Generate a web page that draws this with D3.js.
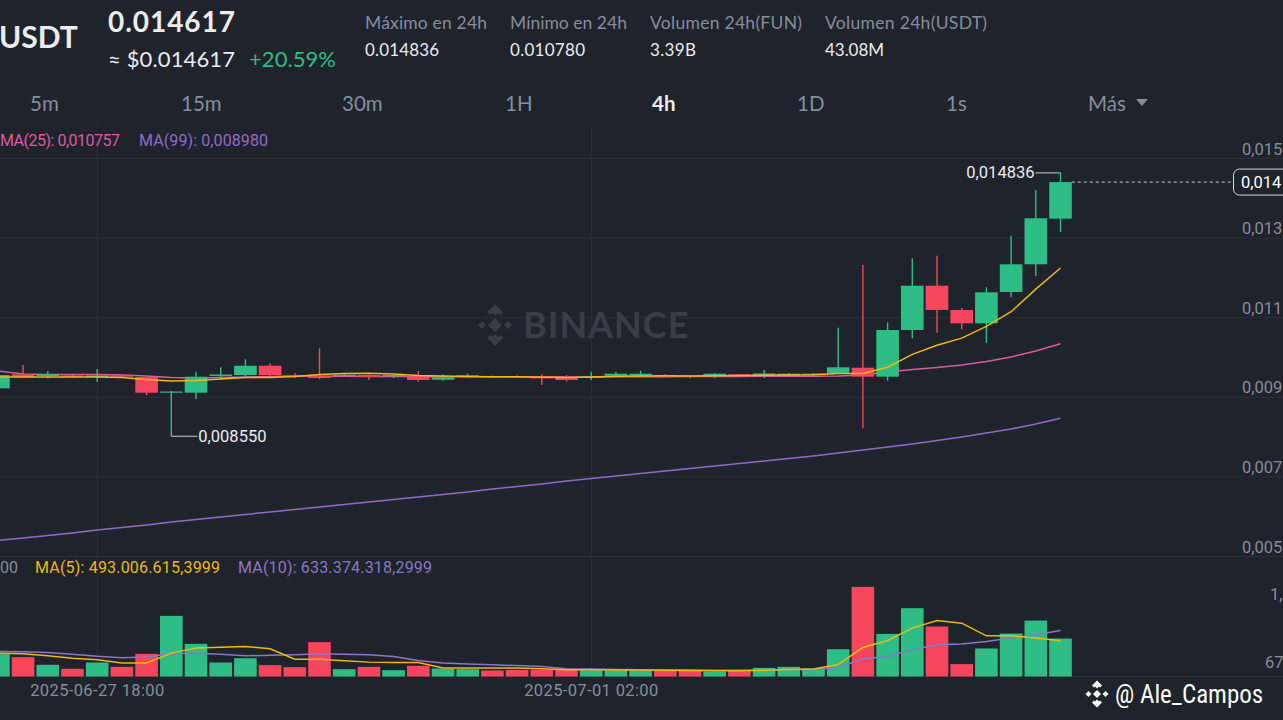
<!DOCTYPE html>
<html lang="es">
<head>
<meta charset="UTF-8">
<title>FUN/USDT 4h</title>
<script src="https://d3js.org/d3.v7.min.js"></script>
<style>
  html, body { margin: 0; padding: 0; background: #1f232c; overflow: hidden; }
  svg { display: block; }
</style>
</head>
<body>
<svg id="chart" width="1283" height="720"></svg>
<script>
// ---- data (4h candles, first one is half hidden on the left) ----
const startTime = "2025-06-27 02:00";
const opens  = [0.009695, 0.010029, 0.009988, 0.010000, 0.009964, 0.010000, 0.009964, 0.009599, 0.009590, 0.009988,
                0.010012, 0.010234, 0.010005, 0.009988, 0.009996, 0.010012, 0.009988, 0.009972, 0.009900, 0.009981,
                0.009988, 0.009981, 0.009988, 0.009957, 0.009941, 0.009996, 0.009996, 0.010012, 0.010000, 0.009996,
                0.010029, 0.009996, 0.009996, 0.010012, 0.010048, 0.010186, 0.009972, 0.011086, 0.012144, 0.011564,
                0.011246, 0.011993, 0.012655, 0.013743];
const highs  = [0.010036, 0.010251, 0.010108, 0.010012, 0.010155, 0.010012, 0.009976, 0.009630, 0.010091, 0.010196,
                0.010387, 0.010292, 0.010060, 0.010650, 0.010036, 0.010024, 0.010036, 0.010108, 0.010029, 0.010043,
                0.010000, 0.010000, 0.010029, 0.010012, 0.010091, 0.010091, 0.010115, 0.010029, 0.010012, 0.010053,
                0.010036, 0.010132, 0.010060, 0.010060, 0.011141, 0.012638, 0.011270, 0.012798, 0.012860, 0.011612,
                0.012106, 0.013337, 0.014428, 0.014836];
const lows   = [0.009678, 0.009953, 0.009933, 0.009964, 0.009852, 0.009964, 0.009535, 0.008550, 0.009439, 0.009893,
                0.009972, 0.009988, 0.009941, 0.009910, 0.009988, 0.009893, 0.009941, 0.009852, 0.009869, 0.009964,
                0.009953, 0.009941, 0.009773, 0.009852, 0.009893, 0.009976, 0.009976, 0.009964, 0.009933, 0.009933,
                0.009976, 0.009941, 0.009976, 0.010000, 0.010036, 0.008740, 0.009876, 0.010888, 0.011022, 0.011103,
                0.010780, 0.011867, 0.012375, 0.013426];
const closes = [0.010012, 0.009964, 0.010029, 0.009976, 0.010000, 0.009976, 0.009590, 0.009618, 0.009972, 0.010024,
                0.010234, 0.010012, 0.009964, 0.009941, 0.010019, 0.009964, 0.010012, 0.009893, 0.009957, 0.010005,
                0.009964, 0.009964, 0.009933, 0.009893, 0.009976, 0.010043, 0.010043, 0.009981, 0.009976, 0.010043,
                0.009988, 0.010048, 0.010043, 0.010043, 0.010196, 0.009972, 0.011086, 0.012144, 0.011564, 0.011246,
                0.011986, 0.012655, 0.013753, 0.014617];
// volume in millions of FUN
const volumes = [307, 266, 161, 106, 193, 133, 312, 835, 450, 193, 252, 156, 129, 473, 101, 133, 87, 147, 110, 101,
                 83, 92, 92, 92, 87, 87, 87, 78, 78, 69, 83, 119, 133, 110, 376, 1235, 587, 941, 689, 170,
                 386, 592, 771, 523];
const ma7  = [0.009964, 0.009964, 0.009964, 0.009966, 0.009964, 0.009953, 0.009905, 0.009869, 0.009881, 0.009917,
              0.009953, 0.009953, 0.009976, 0.010024, 0.010048, 0.010053, 0.010036, 0.010000, 0.009988, 0.009976,
              0.009972, 0.009968, 0.009960, 0.009955, 0.009965, 0.009980, 0.009990, 0.009995, 0.009990, 0.009995,
              0.010000, 0.010005, 0.010012, 0.010017, 0.010048, 0.010048, 0.010197, 0.010505, 0.010721, 0.010893,
              0.011171, 0.011522, 0.012062, 0.012566];
const ma25 = [0.010108, 0.010036, 0.010024, 0.010024, 0.010024, 0.010012, 0.009988, 0.009953, 0.009941, 0.009953,
              0.009964, 0.009976, 0.009988, 0.009982, 0.009980, 0.009978, 0.009976, 0.009974, 0.009972, 0.009972,
              0.009970, 0.009970, 0.009968, 0.009966, 0.009966, 0.009968, 0.009970, 0.009972, 0.009974, 0.009976,
              0.009978, 0.009980, 0.009982, 0.009985, 0.009988, 0.010012, 0.010084, 0.010144, 0.010191, 0.010251,
              0.010335, 0.010442, 0.010585, 0.010757];
const ma99 = [0.006062, 0.006122, 0.006181, 0.006241, 0.006313, 0.006372, 0.006432, 0.006503, 0.006563, 0.006623,
              0.006683, 0.006742, 0.006802, 0.006862, 0.006921, 0.006981, 0.007041, 0.007100, 0.007160, 0.007220,
              0.007291, 0.007351, 0.007411, 0.007482, 0.007542, 0.007601, 0.007661, 0.007721, 0.007780, 0.007840,
              0.007900, 0.007960, 0.008019, 0.008079, 0.008150, 0.008222, 0.008294, 0.008365, 0.008449, 0.008532,
              0.008628, 0.008723, 0.008843, 0.008980];
const volMa5  = [322, 313, 285, 253, 230, 185, 185, 322, 391, 402, 413, 381, 239, 239, 216, 198, 193, 193, 116, 116,
                 116, 116, 106, 92, 92, 90, 88, 85, 82, 80, 78, 85, 96, 103, 164, 399, 496, 666, 771, 735,
                 560, 560, 529, 493];
const volMa10 = [344, 340, 330, 306, 278, 258, 267, 313, 319, 306, 285, 292, 299, 313, 306, 299, 275, 220, 185, 171,
                 161, 150, 138, 106, 102, 95, 92, 90, 88, 86, 85, 87, 95, 98, 125, 240, 280, 368, 437, 446,
                 482, 529, 574, 633];

const priceTicks = [0.00568, 0.00758, 0.00948, 0.01138, 0.01328, 0.01518];
const volTicks = [67.1, 1000];
const volTickLabels = ["67", "1,"];   // only the visible part of the axis labels
const dateTicks = ["2025-06-27 18:00", "2025-07-01 02:00"];
const intervals = ["5m", "15m", "30m", "1H", "4h", "1D", "1s", "Más"];
const intervalX = [30, 181, 342, 505, 652, 797, 946, 1088];
const statLabels = ["Máximo en 24h", "Mínimo en 24h", "Volumen 24h(FUN)", "Volumen 24h(USDT)"];
const statValues = ["0.014836", "0.010780", "3.39B", "43.08M"];
const statX = [365, 510, 650, 825];

// ---- style ----
const bg = "#1f232c", grid = "#2a2f39", gray = "#848e9c";
const up = "#2ebd85", down = "#f6465d";
const cYellow = "#f0b90b", cPink = "#dd5aa0", cPurple = "#9468c8", cVolPurple = "#8d76c4";
const uiFont = "Lato, 'Open Sans', sans-serif";
const chFont = "Roboto, 'Noto Sans', sans-serif";

const svg = d3.select("#chart");
svg.append("rect").attr("width", 1283).attr("height", 720).attr("fill", bg);

const parse = d3.timeParse("%Y-%m-%d %H:%M");
const t0 = parse(startTime);
const candles = opens.map((o, i) => ({
  t: d3.timeHour.offset(t0, 4 * i), o, h: highs[i], l: lows[i], c: closes[i], v: volumes[i],
  ma7: ma7[i], ma25: ma25[i], ma99: ma99[i], vma5: volMa5[i], vma10: volMa10[i]
}));
const last = candles[candles.length - 1];

const x = d3.scaleTime().domain([t0, last.t]).range([-1.6, 1060.5]);
const y = d3.scaleLinear().domain([0.00568, 0.01518]).range([556.5, 158.5]);
const yv = d3.scaleLinear().domain([0, 1000]).range([676.5, 603.9]);
const bodyW = 22.6;
const fmtP = v => d3.format(".6f")(v).replace(".", ",");
const fmtAxis = v => d3.format(".3f")(Math.floor(v * 1000) / 1000).replace(".", ",");

// ---- header ----
svg.append("text").attr("x", -1).attr("y", 48).attr("fill", "#eaecef")
  .attr("font-family", uiFont).attr("font-weight", 700).attr("font-size", 30).text("USDT");
svg.append("text").attr("x", 108).attr("y", 32).attr("fill", "#eaecef")
  .attr("font-family", uiFont).attr("font-weight", 700).attr("font-size", 28)
  .attr("textLength", 127).text("0.014617");
svg.append("text").attr("x", 108).attr("y", 67).attr("fill", "#eaecef")
  .attr("font-family", uiFont).attr("font-size", 22).attr("textLength", 127).text("≈ $0.014617");
svg.append("text").attr("x", 249).attr("y", 67).attr("fill", up)
  .attr("font-family", uiFont).attr("font-size", 22).attr("textLength", 87).text("+20.59%");

const statLW = [122, 117, 152, 162];
const statVW = [74, 75, 46, 59];
statLabels.forEach((s, i) => {
  svg.append("text").attr("x", statX[i]).attr("y", 29).attr("fill", gray)
    .attr("font-family", uiFont).attr("font-size", 17.5).attr("textLength", statLW[i]).text(s);
  svg.append("text").attr("x", statX[i]).attr("y", 56).attr("fill", "#eaecef")
    .attr("font-family", uiFont).attr("font-size", 17).attr("textLength", statVW[i]).text(statValues[i]);
});

intervals.forEach((s, i) => {
  svg.append("text").attr("x", intervalX[i]).attr("y", 111)
    .attr("fill", s === "4h" ? "#eaecef" : gray)
    .attr("font-weight", s === "4h" ? 700 : 400)
    .attr("font-family", uiFont).attr("font-size", 20.5).text(s);
});
// little arrow next to "Más"
svg.append("path").attr("d", "M1136,99 L1148,99 L1142,106 Z").attr("fill", gray);

// ---- grid ----
const g = svg.append("g");
g.selectAll(".hgrid").data(priceTicks).join("line")
  .attr("x1", 0).attr("x2", 1283).attr("y1", d => y(d)).attr("y2", d => y(d))
  .attr("stroke", grid).attr("stroke-width", 1);
g.append("line").attr("x1", 0).attr("x2", 1283).attr("y1", yv(0)).attr("y2", yv(0))
  .attr("stroke", grid);
g.selectAll(".vgrid").data(dateTicks).join("line")
  .attr("x1", d => x(parse(d))).attr("x2", d => x(parse(d)))
  .attr("y1", 126).attr("y2", yv(0)).attr("stroke", grid);

// watermark
const wm = svg.append("g").attr("transform", "translate(495,325)").attr("fill", "#383d47");
[[0, 0, 7], [-13, 0, 4], [13, 0, 4], [0, -13, 4], [0, 13, 4]].forEach(([cx, cy, r]) => {
  wm.append("path").attr("d", `M${cx},${cy - r}L${cx + r},${cy}L${cx},${cy + r}L${cx - r},${cy}Z`);
});
wm.append("path").attr("d", "M-8,-13 L0,-21 L8,-13 L5,-10 L0,-15 L-5,-10Z M-8,13 L0,21 L8,13 L5,10 L0,15 L-5,10Z");
svg.append("text").attr("x", 523).attr("y", 338).attr("fill", "#383d47")
  .attr("font-family", uiFont).attr("font-weight", 700).attr("font-size", 36)
  .attr("letter-spacing", 1).text("BINANCE");

// ---- price axis labels ----
svg.selectAll(".plab").data(priceTicks).join("text")
  .attr("x", 1242).attr("y", d => y(d) - 4).attr("fill", gray)
  .attr("font-family", chFont).attr("font-size", 16.5).text(fmtAxis);

// ---- moving averages ----
const line = key => d3.line().x(d => x(d.t)).y(d => y(d[key]));
svg.append("path").datum(candles).attr("d", line("ma99")).attr("fill", "none")
  .attr("stroke", cPurple).attr("stroke-width", 1.5);
svg.append("path").datum(candles).attr("d", line("ma25")).attr("fill", "none")
  .attr("stroke", cPink).attr("stroke-width", 1.5);

// ---- candles ----
const cg = svg.append("g").selectAll("g").data(candles).join("g");
cg.append("line")
  .attr("x1", d => x(d.t)).attr("x2", d => x(d.t))
  .attr("y1", d => y(d.h)).attr("y2", d => y(d.l))
  .attr("stroke", d => d.c >= d.o ? up : down).attr("stroke-width", 1.4);
cg.append("rect")
  .attr("x", d => x(d.t) - bodyW / 2).attr("width", bodyW)
  .attr("y", d => y(Math.max(d.o, d.c)))
  .attr("height", d => Math.max(1.2, Math.abs(y(d.o) - y(d.c))))
  .attr("fill", d => d.c >= d.o ? up : down);

svg.append("path").datum(candles).attr("d", line("ma7")).attr("fill", "none")
  .attr("stroke", cYellow).attr("stroke-width", 1.5);

// high / low markers
const hiC = candles.reduce((a, b) => b.h > a.h ? b : a);
const loC = candles.reduce((a, b) => b.l < a.l ? b : a);
svg.append("line").attr("x1", x(hiC.t) - 25).attr("x2", x(hiC.t))
  .attr("y1", y(hiC.h)).attr("y2", y(hiC.h)).attr("stroke", "#c9ccd2");
svg.append("text").attr("x", x(hiC.t) - 26).attr("y", y(hiC.h) + 5.5).attr("text-anchor", "end")
  .attr("fill", "#eaecef").attr("font-family", chFont).attr("font-size", 16.5).text(fmtP(hiC.h));
svg.append("line").attr("x1", x(loC.t)).attr("x2", x(loC.t) + 26)
  .attr("y1", y(loC.l)).attr("y2", y(loC.l)).attr("stroke", "#c9ccd2");
svg.append("text").attr("x", x(loC.t) + 27).attr("y", y(loC.l) + 5.5)
  .attr("fill", "#eaecef").attr("font-family", chFont).attr("font-size", 16.5).text(fmtP(loC.l));

// current price
const yc = y(last.c);
svg.append("line").attr("x1", x(last.t) + bodyW / 2).attr("x2", 1233).attr("y1", yc).attr("y2", yc)
  .attr("stroke", "#c9ccd2").attr("stroke-dasharray", "3,3");
svg.append("rect").attr("x", 1233.5).attr("y", yc - 13).attr("width", 70).attr("height", 26)
  .attr("rx", 6).attr("fill", bg).attr("stroke", "#d5d8dd");
svg.append("text").attr("x", 1241).attr("y", yc + 6).attr("fill", "#ffffff")
  .attr("font-family", chFont).attr("font-size", 16.5).text(fmtAxis(last.c));

// legends
svg.append("text").attr("x", 0).attr("y", 146).attr("fill", cPink)
  .attr("font-family", chFont).attr("font-size", 16).attr("textLength", 120)
  .text("MA(25): " + fmtP(last.ma25));
svg.append("text").attr("x", 139).attr("y", 146).attr("fill", cPurple)
  .attr("font-family", chFont).attr("font-size", 16).attr("textLength", 129)
  .text("MA(99): " + fmtP(last.ma99));

// ---- volume ----
svg.append("g").selectAll("rect").data(candles).join("rect")
  .attr("x", d => x(d.t) - bodyW / 2).attr("width", bodyW)
  .attr("y", d => yv(d.v)).attr("height", d => yv(0) - yv(d.v))
  .attr("fill", d => d.c >= d.o ? up : down);
const vline = key => d3.line().x(d => x(d.t)).y(d => yv(d[key]));
svg.append("path").datum(candles).attr("d", vline("vma10")).attr("fill", "none")
  .attr("stroke", cVolPurple).attr("stroke-width", 1.5);
svg.append("path").datum(candles).attr("d", vline("vma5")).attr("fill", "none")
  .attr("stroke", cYellow).attr("stroke-width", 1.5);

svg.append("text").attr("x", 0).attr("y", 573).attr("fill", gray)
  .attr("font-family", chFont).attr("font-size", 16).text("00");
svg.append("text").attr("x", 35).attr("y", 573).attr("fill", cYellow)
  .attr("font-family", chFont).attr("font-size", 16).attr("textLength", 185).text("MA(5): 493.006.615,3999");
svg.append("text").attr("x", 238).attr("y", 573).attr("fill", cVolPurple)
  .attr("font-family", chFont).attr("font-size", 16).attr("textLength", 194).text("MA(10): 633.374.318,2999");

svg.selectAll(".vlab").data(volTicks).join("text")
  .attr("x", (d, i) => i === 0 ? 1265 : 1270).attr("y", d => yv(d) - 4)
  .attr("fill", gray).attr("font-family", chFont).attr("font-size", 16.5)
  .text((d, i) => volTickLabels[i]);

// ---- time axis ----
svg.selectAll(".tlab").data(dateTicks).join("text")
  .attr("x", d => x(parse(d))).attr("y", 696).attr("text-anchor", "middle")
  .attr("fill", gray).attr("font-family", chFont).attr("font-size", 16.5)
  .attr("textLength", 134).text(d => d);

// ---- signature ----
const sg = svg.append("g").attr("transform", "translate(1097,694)").attr("fill", "#ffffff");
[[0, 0, 4], [-8.5, 0, 3], [8.5, 0, 3], [0, -8.5, 3], [0, 8.5, 3]].forEach(([cx, cy, r]) => {
  sg.append("path").attr("d", `M${cx},${cy - r}L${cx + r},${cy}L${cx},${cy + r}L${cx - r},${cy}Z`);
});
sg.append("path").attr("d", "M-5,-8.5 L0,-13.5 L5,-8.5 L3,-6.5 L0,-9.5 L-3,-6.5Z M-5,8.5 L0,13.5 L5,8.5 L3,6.5 L0,9.5 L-3,6.5Z");
svg.append("text").attr("x", 1115).attr("y", 703).attr("fill", "#ffffff")
  .attr("font-family", "'Liberation Sans Narrow', 'Roboto Condensed', Roboto, sans-serif")
  .attr("font-size", 25).text("@ Ale_Campos");
</script>
</body>
</html>
